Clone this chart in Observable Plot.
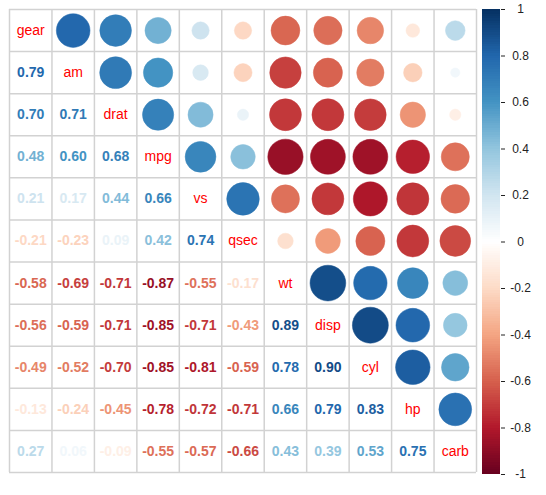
<!DOCTYPE html>
<html>
<head>
<meta charset="utf-8">
<script src="https://cdn.jsdelivr.net/npm/d3@7"></script>
<script src="https://cdn.jsdelivr.net/npm/@observablehq/plot@0.6"></script>
<style>
  body { margin: 0; background: #fff; }
  #wrap { position: relative; width: 546px; height: 495px; }
  #wrap svg { position: absolute; left: 0; top: 0; }
</style>
</head>
<body>
<div id="wrap"></div>
<script>
// Variable order (as in the reference)
const vars = ["gear", "am", "drat", "mpg", "vs", "qsec", "wt", "disp", "cyl", "hp", "carb"];

// Lower-triangle correlations, row by row (row i has i values for columns 0..i-1)
const lower = [
  [],
  [0.79],
  [0.70, 0.71],
  [0.48, 0.60, 0.68],
  [0.21, 0.17, 0.44, 0.66],
  [-0.21, -0.23, 0.09, 0.42, 0.74],
  [-0.58, -0.69, -0.71, -0.87, -0.55, -0.17],
  [-0.56, -0.59, -0.71, -0.85, -0.71, -0.43, 0.89],
  [-0.49, -0.52, -0.70, -0.85, -0.81, -0.59, 0.78, 0.90],
  [-0.13, -0.24, -0.45, -0.78, -0.72, -0.71, 0.66, 0.79, 0.83],
  [0.27, 0.06, -0.09, -0.55, -0.57, -0.66, 0.43, 0.39, 0.53, 0.75]
];

// Colour legend ticks
const legendTicks = [-1, -0.8, -0.6, -0.4, -0.2, 0, 0.2, 0.4, 0.6, 0.8, 1];

// corrplot COL2('RdBu') palette stops
const paletteStops = [-1, -0.8, -0.6, -0.4, -0.2, 0, 0.2, 0.4, 0.6, 0.8, 1];
const paletteColors = ["#67001F", "#B2182B", "#D6604D", "#F4A582", "#FDDBC7", "#FFFFFF",
                       "#D1E5F0", "#92C5DE", "#4393C3", "#2166AC", "#053061"];

// Build cell tables from the arrays
const n = vars.length;
const numbers = [];   // lower triangle: text
const circles = [];   // upper triangle: circles
for (let i = 1; i < n; i++) {
  for (let j = 0; j < i; j++) {
    const v = lower[i][j];
    numbers.push({row: i, col: j, v});
    circles.push({row: j, col: i, v});
  }
}
const diag = vars.map((name, i) => ({row: i, col: i, name}));

const colorScale = {type: "linear", domain: paletteStops, range: paletteColors, interpolate: "rgb"};
const fmt2 = v => (v < 0 ? "-" : "") + Math.abs(v).toFixed(2);

const W = 546, H = 495;
const gLeft = 9, gRight = 476, gTop = 9, gBottom = 472;
const cellH = (gBottom - gTop) / n;

const main = Plot.plot({
  width: W, height: H,
  marginLeft: gLeft, marginRight: W - gRight, marginTop: gTop, marginBottom: H - gBottom,
  x: {domain: [-0.5, n - 0.5], axis: null},
  y: {domain: [n - 0.5, -0.5], axis: null},
  r: {type: "sqrt", domain: [0, 1], range: [0, 0.45 * cellH]},
  color: colorScale,
  style: {fontFamily: "'Liberation Sans', Arial, sans-serif", background: "transparent"},
  marks: [
    Plot.ruleX(d3.range(-0.5, n, 1), {stroke: "#d2d2d2", strokeWidth: 1.5}),
    Plot.ruleY(d3.range(-0.5, n, 1), {stroke: "#d2d2d2", strokeWidth: 1.5}),
    Plot.dot(circles, {x: "col", y: "row", r: d => Math.abs(d.v), fill: "v", stroke: "v", strokeWidth: 0.5}),
    Plot.text(numbers, {x: "col", y: "row", text: d => fmt2(d.v), fill: "v",
      fontSize: 14, fontWeight: "bold"}),
    Plot.text(diag, {x: "col", y: "row", text: "name", fill: "#FF0000", fontSize: 14})
  ]
});

// Colour bar
const barLeft = 482, barRight = 500;
const steps = d3.range(-1, 1, 0.01);
const bar = Plot.plot({
  width: W, height: H,
  marginLeft: barLeft, marginRight: W - barRight, marginTop: 9, marginBottom: H - 474,
  x: {domain: [0, 1], axis: null},
  y: {domain: [-1, 1]},
  color: colorScale,
  style: {fontFamily: "'Liberation Sans', Arial, sans-serif", background: "transparent"},
  marks: [
    Plot.rect(steps, {x1: 0, x2: 1, y1: d => d, y2: d => Math.min(1, d + 0.012),
      fill: d => d + 0.005, shapeRendering: "crispEdges"}),
    Plot.axisY({anchor: "right", ticks: legendTicks, tickSize: 4, tickPadding: 16,
      textAnchor: "middle", fontSize: 12, color: "#222", label: null,
      tickFormat: d => String(Math.round(d * 10) / 10)})
  ]
});

const wrap = document.getElementById("wrap");
wrap.appendChild(main);
wrap.appendChild(bar);
</script>
</body>
</html>
